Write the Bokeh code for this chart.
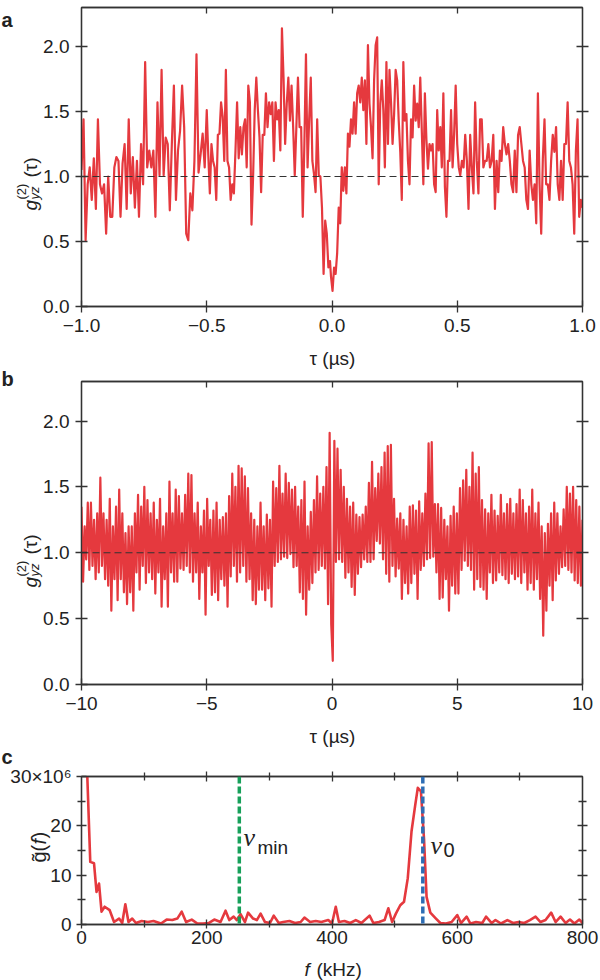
import numpy as np
from bokeh.plotting import figure
from bokeh.models import Range1d, LinearAxis, FixedTicker, Span, Label, GridBox
from bokeh.embed import file_html
from bokeh.resources import INLINE

# ---------------- data ----------------
# panel a : g_yz^(2)(tau), tau in microseconds, four uniformly sampled stretches
a_seg1_span = (-1.0, -0.5)
a_seg1 = [1.05,1.44,0.51,0.94,1.07,0.82,1.14,0.75,1.44,0.94,0.87,0.94,0.56,1.00,0.69,0.69,1.07,1.15,1.12,0.69,
          1.10,1.25,0.75,1.44,0.87,1.15,0.76,1.12,0.69,1.25,0.94,1.88,1.07,1.20,1.07,1.20,0.69,1.57,1.01,1.82,
          1.01,1.30,1.25,0.74,1.25,1.70,0.82,1.20,1.35,1.70,1.38,0.56,0.51,0.87,0.74,1.12,1.94,1.03,1.17,1.33,
          1.07,1.51]
a_seg2_span = (-0.494, -0.008)
a_seg2 = [1.17,0.87,1.25,1.12,1.07,0.82,1.32,1.33,1.57,1.46,1.12,1.82,1.12,1.07,0.82,0.94,0.87,1.20,1.57,1.14,
          1.38,1.17,1.38,1.44,1.07,1.70,1.57,0.63,1.00,1.51,1.76,1.51,1.30,0.88,1.32,1.32,1.64,1.38,1.57,1.48,
          1.57,1.12,1.57,1.44,1.51,1.20,2.14,1.76,1.25,1.56,1.76,1.43,1.70,1.38,1.01,1.38,1.76,1.38,1.38,0.69,
          1.25,1.94,1.07,1.44,1.76,1.12,1.02,0.88,1.44,1.01,1.00,0.76,0.25,0.66,0.56,0.30,0.35]
a_seg3_span = (-0.004, 0.506)
a_seg3 = [0.23,0.12,0.30,0.25,0.41,0.76,0.64,1.07,0.89,1.07,0.87,1.33,1.23,1.44,1.33,1.57,1.33,1.64,1.70,1.57,
          1.76,1.51,1.74,1.25,2.01,1.56,1.38,1.14,1.74,2.01,2.07,0.94,1.56,1.74,1.51,1.07,1.88,1.25,1.82,1.57,
          1.25,1.48,1.82,1.74,1.43,1.19,0.82,1.88,1.43,1.48,1.12,0.94,1.44,1.30,1.70,1.43,1.56,1.38,1.76,1.35,
          0.94,1.64,1.28,1.06,1.25,1.20,1.25,0.94,0.88,1.51,1.20,1.38,1.07,1.64,0.92,0.69,1.12,1.12,1.51,1.07,
          1.33,1.70,1.25,1.07]
a_seg4_span = (0.512, 1.0)
a_seg4 = [1.01,1.12,1.07,1.32,1.12,0.75,1.32,1.07,0.87,1.57,1.12,0.87,1.44,1.44,1.07,1.12,1.12,1.25,1.07,1.12,
          1.32,0.75,1.12,0.88,1.20,1.12,1.38,1.25,1.17,1.25,1.12,0.94,0.88,1.20,0.88,1.32,1.38,1.25,1.12,1.07,
          0.82,0.75,1.20,0.94,0.82,0.94,0.64,1.64,0.94,0.56,1.14,1.44,0.94,0.94,0.82,1.12,1.32,1.19,1.38,0.94,
          0.82,1.12,0.82,1.25,1.25,1.57,1.12,1.07,0.94,0.56,1.20,1.44,0.69,0.82,0.76]

# panel b : g_yz^(2)(tau) over -10..10 us, uniformly sampled
b_span = (-10.0, 10.0)
b_vals = [
 1.35,0.78,1.20,0.95,1.38,0.87,1.38,0.90,1.25,0.80,1.30,0.85,1.57,0.90,1.30,0.80,
 1.25,0.75,1.41,0.56,1.20,0.80,1.35,0.64,1.48,0.80,1.30,0.70,1.15,0.61,1.20,0.70,
 1.20,0.56,1.30,0.85,1.44,0.72,1.35,0.90,1.50,0.77,1.40,0.85,1.30,0.80,1.38,0.69,
 1.25,0.85,1.41,0.59,1.20,0.80,1.30,0.59,1.54,0.85,1.30,0.78,1.48,0.78,1.43,0.88,
 1.30,0.87,1.44,0.90,1.60,0.85,1.59,0.78,1.30,0.85,1.38,0.65,1.20,0.85,1.32,0.53,
 1.41,0.90,1.25,0.68,1.32,0.70,1.38,0.64,1.25,0.80,1.27,0.75,1.30,0.59,1.43,0.82,
 1.60,0.90,1.50,0.78,1.66,0.85,1.64,0.90,1.58,0.78,1.49,0.80,1.30,0.64,1.25,0.61,
 1.20,0.72,1.38,0.72,1.20,0.64,1.29,0.73,1.25,0.59,1.54,0.90,1.49,0.93,1.66,0.95,
 1.45,0.97,1.60,0.96,1.53,0.99,1.48,0.89,1.50,0.90,1.35,0.70,1.40,0.65,1.54,0.53,
 1.20,0.72,1.31,0.77,1.40,0.85,1.58,0.87,1.45,0.90,1.50,0.88,1.65,0.61,1.91,0.46,
 0.18,1.85,0.93,1.79,0.95,1.63,0.93,1.50,0.81,1.41,0.85,1.35,0.74,1.38,0.68,1.29,
 0.84,1.27,0.89,1.29,0.95,1.35,0.93,1.53,0.93,1.69,0.95,1.49,1.09,1.60,1.07,1.65,
 0.95,1.76,0.84,1.81,0.78,1.82,0.90,1.41,0.82,1.26,0.88,1.30,0.65,1.25,0.77,1.20,
 0.69,1.35,0.77,1.36,0.84,1.32,0.65,1.39,0.87,1.30,0.90,1.45,0.95,1.83,0.96,1.84,
 0.97,1.37,0.85,1.37,0.65,1.34,0.66,1.25,0.80,1.20,0.56,1.28,0.75,1.35,0.69,1.30,
 0.69,1.49,0.87,1.55,0.94,1.63,0.90,1.50,0.87,1.76,0.72,1.60,0.80,1.65,0.74,1.40,
 0.72,1.33,0.65,1.30,0.85,1.44,0.77,1.32,0.79,1.28,0.85,1.44,0.83,1.30,0.80,1.37,
 0.77,1.41,0.84,1.30,0.80,1.37,0.82,1.48,0.77,1.40,0.85,1.30,0.72,1.35,0.77,1.48,
 0.72,1.30,0.80,1.38,0.65,1.20,0.37,1.15,0.56,1.22,0.75,1.30,0.64,1.38,0.79,1.30,
 0.84,1.20,0.89,1.33,0.90,1.50,0.87,1.45,0.85,1.50,0.79,1.40,0.77,1.35,0.75,1.25]

# panel c : spectrum g~(f), f in kHz, values in units of 1e6
c_f = [9,14,20,24,28,32,37,45,52,60,65,70,75,81,87,96,106,115,127,136,145,153,160,167,176,185,194,203,212,222,
       230,236,243,248,254,261,266,274,280,286,293,301,307,315,322,332,341,350,356,365,374,383,394,400,406,411,
       420,429,438,447,460,466,475,484,490,496,502,509,515,521,527,533,537,542,547,551,557,566,573,582,591,600,
       606,615,621,630,640,646,655,661,670,680,689,698,707,716,725,733,741,750,757,765,773,780,787,795,800]
c_g = [31.0,12.7,12.4,6.6,8.3,2.6,3.6,2.9,0.5,1.2,0.3,4.1,0.5,1.2,0.3,0.7,0.5,0.7,0.2,1.0,0.9,1.2,2.6,0.5,1.0,
       0.2,0.2,0.3,1.0,0.5,2.8,0.9,1.6,0.9,2.1,0.5,2.4,1.2,0.9,2.2,0.5,0.3,1.8,0.3,0.5,0.7,0.3,0.5,1.4,0.5,
       0.7,0.5,0.9,0.2,3.6,0.5,0.7,0.3,0.9,0.3,1.8,0.3,0.5,0.9,3.3,0.5,2.2,3.9,4.6,9.4,18.9,24.3,27.7,27.0,17.2,
       5.6,2.4,1.2,0.3,0.2,0.5,1.9,0.3,1.6,0.2,0.5,0.3,1.6,0.3,0.9,0.2,0.9,0.3,0.5,0.3,0.9,1.6,0.5,0.9,2.4,
       0.5,1.6,0.3,1.0,0.2,1.0,0.3]
c_scale = 1e6
nu_min = 252   # kHz
nu_0 = 545     # kHz

tau_ticks_a = [-1.0, -0.5, 0.0, 0.5, 1.0]
tau_labels_a = ["\u22121.0", "\u22120.5", "0.0", "0.5", "1.0"]
g_ticks = [0.0, 0.5, 1.0, 1.5, 2.0]
g_labels = ["0.0", "0.5", "1.0", "1.5", "2.0"]
tau_ticks_b = [-10, -5, 0, 5, 10]
tau_labels_b = ["\u221210", "\u22125", "0", "5", "10"]
f_ticks = [0, 200, 400, 600, 800]
f_minor = [100, 300, 500, 700]
c_ticks = [0, 10e6, 20e6, 30e6]
c_labels = ["0", "10", "20", "30\u00d710\u2076"]
c_minor = [5e6, 15e6, 25e6]

# ---------------- styling ----------------
FONT = "Liberation Sans"
AX = "#333333"
TXT = "#222222"
RED = "#e5393e"
FS = "19px"


def key(t):
    return int(t) if float(t).is_integer() else float(t)


def setup_axis(ax, ticks, labels=None, minor=(), tin=6, tout=6, mtin=0, mtout=0, standoff=6):
    ax.ticker = FixedTicker(ticks=list(ticks), minor_ticks=list(minor))
    ax.axis_line_color = AX
    ax.axis_line_width = 1.3
    ax.major_tick_line_color = AX
    ax.major_tick_line_width = 1.3
    ax.minor_tick_line_color = AX
    ax.minor_tick_line_width = 1.3
    ax.major_tick_in = tin
    ax.major_tick_out = tout
    ax.minor_tick_in = mtin
    ax.minor_tick_out = mtout
    if labels is not None:
        ax.major_label_overrides = {key(t): l for t, l in zip(ticks, labels)}
        ax.major_label_text_font = FONT
        ax.major_label_text_font_size = FS
        ax.major_label_text_color = TXT
        ax.major_label_standoff = standoff
    else:
        ax.major_label_text_font_size = "0px"
        ax.major_label_text_alpha = 0
        ax.major_label_standoff = 0


def make_fig(h, xr, yr, mt, mb, ml, mr):
    p = figure(width=600, height=h, x_range=Range1d(*xr), y_range=Range1d(*yr),
               output_backend="svg", toolbar_location=None,
               min_border_top=mt, min_border_bottom=mb, min_border_left=ml, min_border_right=mr)
    p.grid.visible = False
    p.outline_line_color = AX
    p.outline_line_width = 1.3
    p.background_fill_color = "white"
    p.border_fill_color = "white"
    return p


# ---------------- panel a ----------------
pa = make_fig(366, (-1.0, 1.0), (0.0, 2.3), 7, 60, 81, 18)
setup_axis(pa.xaxis[0], tau_ticks_a, tau_labels_a)
setup_axis(pa.yaxis[0], g_ticks, g_labels)
top_a = LinearAxis()
setup_axis(top_a, [-0.5, 0.0, 0.5], None, tin=6, tout=0)
pa.add_layout(top_a, "above")
right_a = LinearAxis()
setup_axis(right_a, [0.5, 1.0, 1.5, 2.0], None, tin=6, tout=6)
pa.add_layout(right_a, "right")
tau_a = np.concatenate([np.linspace(a_seg1_span[0], a_seg1_span[1], len(a_seg1)),
                        np.linspace(a_seg2_span[0], a_seg2_span[1], len(a_seg2)),
                        np.linspace(a_seg3_span[0], a_seg3_span[1], len(a_seg3)),
                        np.linspace(a_seg4_span[0], a_seg4_span[1], len(a_seg4))])
g_a = np.array(a_seg1 + a_seg2 + a_seg3 + a_seg4)
pa.line(tau_a, g_a, line_color=RED, line_width=2.2, line_join="round")
pa.add_layout(Span(location=1.0, dimension="width", line_color="#333333",
                   line_dash="7 4", line_width=1.2))

# ---------------- panel b ----------------
pb = make_fig(378, (-10.0, 10.0), (0.0, 2.3), 15, 60, 81, 18)
setup_axis(pb.xaxis[0], tau_ticks_b, tau_labels_b)
setup_axis(pb.yaxis[0], g_ticks, g_labels)
top_b = LinearAxis()
setup_axis(top_b, [-5, 0, 5], None, tin=6, tout=0)
pb.add_layout(top_b, "above")
right_b = LinearAxis()
setup_axis(right_b, [0.5, 1.0, 1.5, 2.0], None, tin=6, tout=6)
pb.add_layout(right_b, "right")
tau_b = np.linspace(b_span[0], b_span[1], len(b_vals))
pb.line(tau_b, b_vals, line_color=RED, line_width=2.2, line_join="round")
pb.add_layout(Span(location=1.0, dimension="width", line_color="#333333",
                   line_dash="7 4", line_width=1.2))

# ---------------- panel c ----------------
pc = make_fig(236, (0, 800), (0, 30e6), 32, 56, 81, 18)
setup_axis(pc.xaxis[0], f_ticks, [str(t) for t in f_ticks], minor=f_minor,
           tin=5, tout=4, mtin=4, mtout=3, standoff=2)
setup_axis(pc.yaxis[0], c_ticks, c_labels, minor=c_minor, tin=5, tout=5, mtin=4, mtout=4, standoff=5)
top_c = LinearAxis()
setup_axis(top_c, [200, 400, 600], None, minor=f_minor, tin=5, tout=5, mtin=4, mtout=4)
pc.add_layout(top_c, "above")
right_c = LinearAxis()
setup_axis(right_c, [10e6, 20e6], None, minor=c_minor, tin=5, tout=5, mtin=4, mtout=4)
pc.add_layout(right_c, "right")
pc.line(c_f, np.array(c_g) * c_scale, line_color=RED, line_width=2.6, line_join="round")
pc.add_layout(Span(location=nu_min, dimension="height", line_color="#17a05a",
                   line_dash="7 3", line_width=3.5))
pc.add_layout(Span(location=nu_0, dimension="height", line_color="#2e6db4",
                   line_dash="7 3", line_width=3.5))

# ---------------- transparent text overlay (page pixel coordinates) ----------------
ov = figure(width=600, height=980, x_range=Range1d(0, 600), y_range=Range1d(980, 0),
            output_backend="svg", toolbar_location=None, title=None,
            x_axis_type=None, y_axis_type=None, min_border=0)
ov.frame_align = False
ov.grid.visible = False
ov.outline_line_color = None
ov.background_fill_color = None
ov.border_fill_color = None


def txt(text, x, y, size=FS, style="normal", angle=0.0, align="left", font=FONT, color=TXT):
    ov.add_layout(Label(x=x, y=y, text=text, text_font=font, text_font_size=size,
                        text_font_style=style, text_color=color, angle=angle,
                        angle_units="rad", text_align=align, text_baseline="alphabetic"))


R = np.pi / 2


def g2_label(bx, by):
    txt("g", bx, by, size="19px", style="italic", angle=R)
    txt("yz", bx + 4, by - 11, size="13px", style="italic", angle=R)
    txt("(2)", bx - 9, by - 11, size="13px", angle=R)
    txt("(\u03c4)", bx, by - 33, size="19px", angle=R)


txt("a", 1, 19, size="20px", style="bold")
txt("\u03c4 (\u00b5s)", 332, 358, align="center")
g2_label(30, 210)

txt("b", 1, 378, size="20px", style="bold")
txt("\u03c4 (\u00b5s)", 332, 736, align="center")
g2_label(30, 587)

txt("c", 1, 756, size="20px", style="bold")
txt("\u03bd", 243, 837, size="26px", style="italic", font="Liberation Serif")
txt("min", 257, 847, size="19px")
txt("\u03bd", 430, 845, size="26px", style="italic", font="Liberation Serif")
txt("0", 443, 849, size="20px")
txt("f", 304, 969, style="italic")
txt("(kHz)", 316, 969)
txt("g\u0303(", 38, 862, size="20px", angle=R)
txt("f", 38, 844, size="20px", style="italic", angle=R)
txt(")", 38, 838, size="20px", angle=R)

layout = GridBox(children=[(pa, 0, 0), (pb, 1, 0), (pc, 2, 0), (ov, 0, 0, 3, 1)], spacing=0)
open("out.html", "w").write(file_html(layout, INLINE))
